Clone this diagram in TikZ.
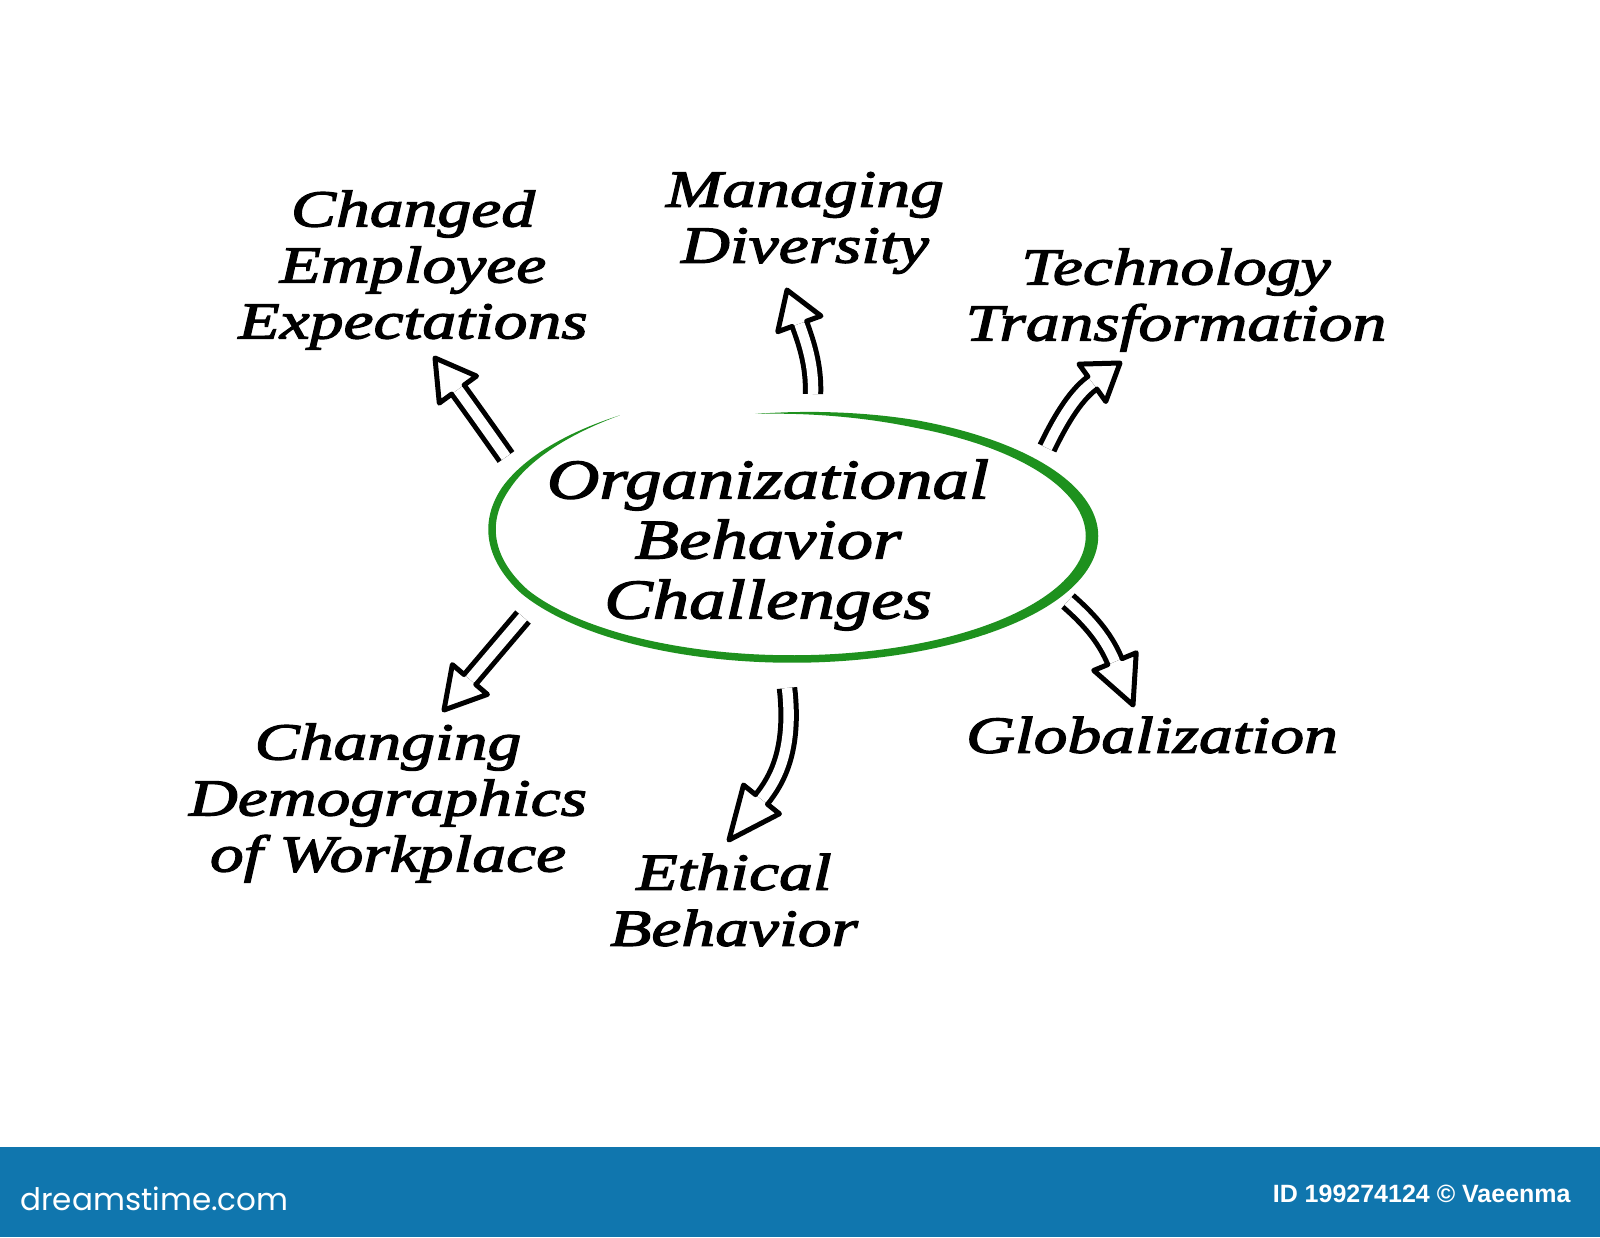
\documentclass[tikz,border=0pt]{standalone}
\usepackage{fontspec}
\usetikzlibrary{calc}
\newfontfamily\hand{Liberation Serif}[FakeStretch=1.3,FakeBold=2.5]
\newfontfamily\barsans{Liberation Sans}
\newfontfamily\logofont{Poppins}
\definecolor{ovalgreen}{RGB}{30,145,30}
\definecolor{barblue}{RGB}{16,118,174}
\tikzset{
  topic/.style={font=\hand\itshape\fontsize{26}{28}\selectfont, align=center, text=black, inner sep=0pt},
  core/.style={font=\hand\itshape\fontsize{28}{30}\selectfont, align=center, text=black, inner sep=0pt},
  shaft/.style={draw=black, double=white, line width=2.5pt, double distance=5.2pt},
  hollowhead/.style={draw=black, line width=2.5pt, line join=round, line cap=round},
}
\newcommand\hollowarrow[5]{%
  \draw[shaft] (#1) .. controls (#2) and (#3) .. ($(#4)!#5!(#3)$);
  \coordinate (hb) at ($(#4)!#5!(#3)$);
  \draw[hollowhead] ($(hb)!3.85pt!90:(#4)$) -- ($(hb)!11.5pt!90:(#4)$) -- (#4)
     -- ($(hb)!11.5pt!-90:(#4)$) -- ($(hb)!3.85pt!-90:(#4)$);
}
\begin{document}
\begin{tikzpicture}[x=0.5pt,y=-0.5pt]
\useasboundingbox (0,0) rectangle (1600,1237);
\fill[white] (0,0) rectangle (1600,1237);

% green oval (tapered hand-drawn stroke)
\fill[ovalgreen]
  plot[domain=97:-235, samples=220, variable=\t]
    ({792+(300+0.5*min((97-\t)/4, 7.5+5*max(0,cos(\t))^3, (\t+235)/5))*cos(\t)},
     {536-(123+0.5*min((97-\t)/4, 7.5+5*max(0,cos(\t))^3, (\t+235)/5))*sin(\t)-20*max(0,(-153-\t)/82)})
  -- plot[domain=-235:97, samples=220, variable=\t]
    ({792+(300-0.5*min((97-\t)/4, 7.5+5*max(0,cos(\t))^3, (\t+235)/5))*cos(\t)},
     {536-(123-0.5*min((97-\t)/4, 7.5+5*max(0,cos(\t))^3, (\t+235)/5))*sin(\t)-20*max(0,(-153-\t)/82)})
  -- cycle;

% texts
\node[core]  (core) at (768,545) {Organizational\\Behavior\\Challenges};
\node[topic] (emp)  at (413,270) {Changed\\Employee\\Expectations};
\node[topic] (div)  at (805,223) {Managing\\Diversity};
\node[topic] (tech) at (1176,300) {Technology\\Transformation};
\node[topic] (demo) at (388,803) {Changing\\Demographics\\of Workplace};
\node[topic] (eth)  at (734,900) {Ethical\\Behavior};
\node[topic] (glob) at (1152,735) {Globalization};

% arrow end points
\coordinate (a1t) at (506,457); \coordinate (a1c) at (480,420); \coordinate (a1h) at (435,358);
\coordinate (a2t) at (813,394); \coordinate (a2a) at (814,365); \coordinate (a2b) at (806,342); \coordinate (a2h) at (787,290);
\coordinate (a3t) at (1047,448); \coordinate (a3a) at (1058,425); \coordinate (a3b) at (1074,396); \coordinate (a3h) at (1120,363);
\coordinate (a4t) at (523,617); \coordinate (a4c) at (500,644); \coordinate (a4h) at (444,710);
\coordinate (a5t) at (787,688); \coordinate (a5a) at (794,750); \coordinate (a5b) at (777,780); \coordinate (a5h) at (729,840);
\coordinate (a6t) at (1068,601); \coordinate (a6a) at (1092,622); \coordinate (a6b) at (1106,640); \coordinate (a6h) at (1133,705);

\hollowarrow{a1t}{a1t}{a1c}{a1h}{19.5pt}
\hollowarrow{a2t}{a2a}{a2b}{a2h}{18pt}
\hollowarrow{a3t}{a3a}{a3b}{a3h}{17pt}
\hollowarrow{a4t}{a4t}{a4c}{a4h}{20pt}
\hollowarrow{a5t}{a5a}{a5b}{a5h}{26pt}
\hollowarrow{a6t}{a6a}{a6b}{a6h}{23.5pt}

% bottom bar
\fill[barblue] (0,1147) rectangle (1600,1237);
\node[anchor=west, text=white, inner sep=0pt, font=\logofont\fontsize{15.5}{15.5}\selectfont] (logo) at (20,1199) {dreamstime.com};
\node[anchor=east, text=white, inner sep=0pt, font=\barsans\bfseries\fontsize{12.5}{12.5}\selectfont] (credit) at (1571,1194) {ID 199274124 © Vaeenma};
\end{tikzpicture}
\end{document}
